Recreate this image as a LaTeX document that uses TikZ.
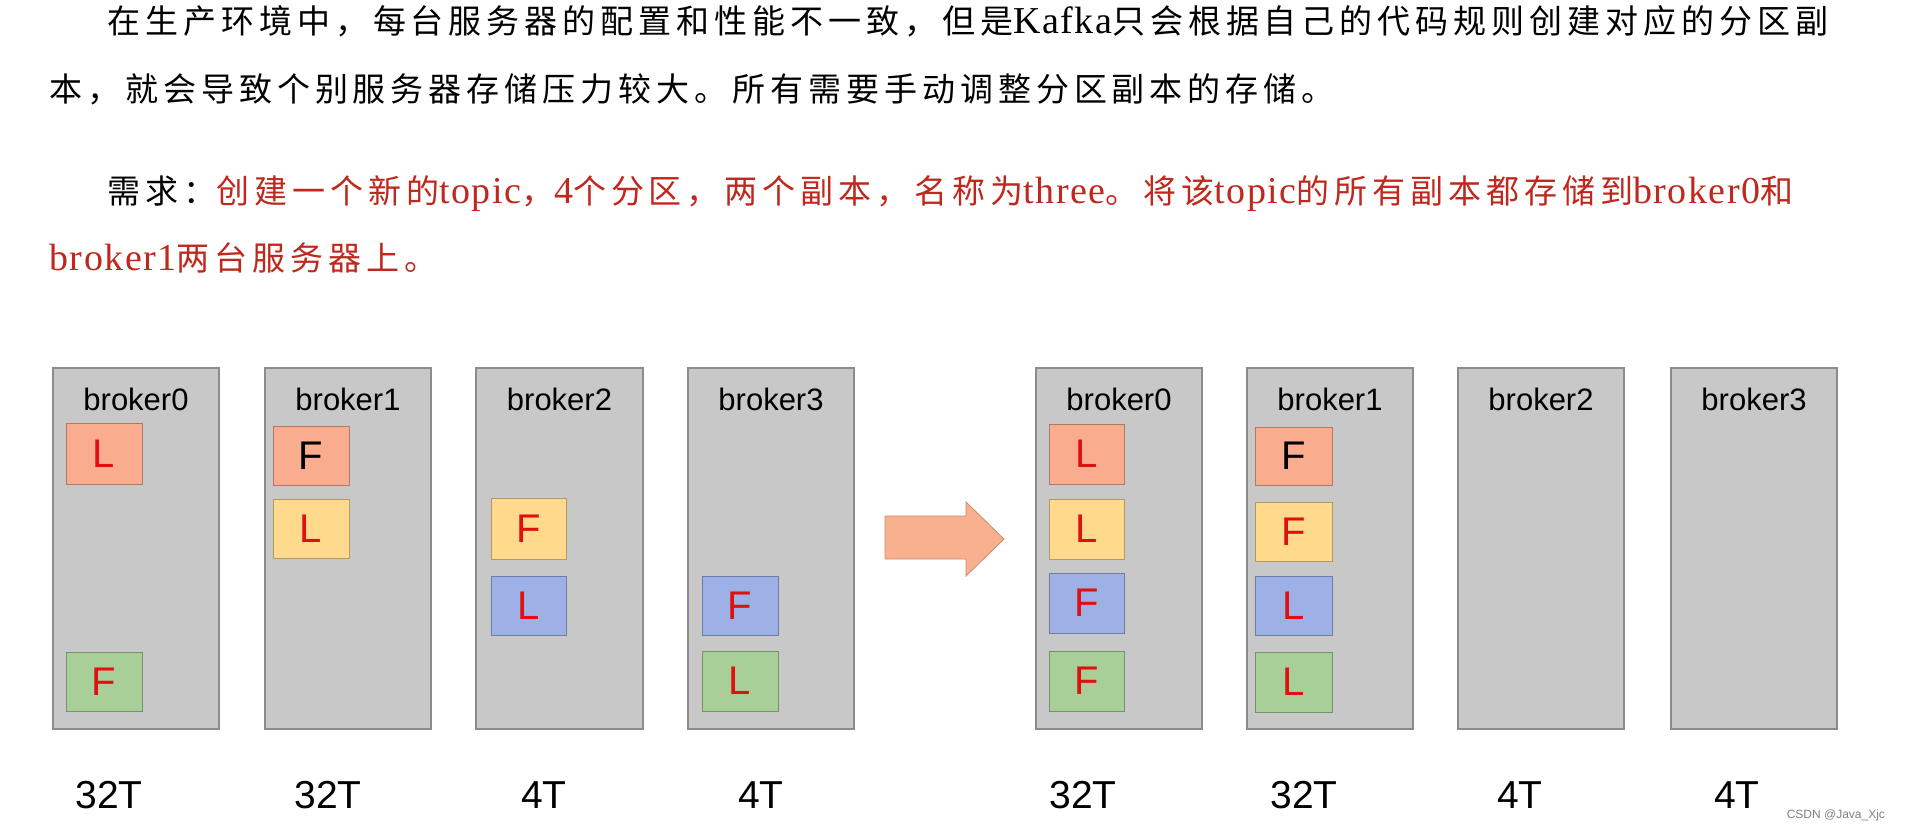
\documentclass[tikz,border=0pt]{standalone}
\usepackage{fontspec}
\setmainfont{Liberation Sans}
\newfontfamily\cjk[LetterSpace=15]{Noto Sans CJK SC}
\newfontfamily\lat[LetterSpace=4]{Liberation Serif}
\newcommand{\la}[1]{{\lat\fontsize{19}{19}\selectfont #1}}
\definecolor{colgray}{HTML}{C8C8C8}
\definecolor{colborder}{HTML}{8C8C8C}
\definecolor{corange}{HTML}{F9AC8E}
\definecolor{cyellow}{HTML}{FFD98C}
\definecolor{cblue}{HTML}{9DB1E6}
\definecolor{cgreen}{HTML}{A9CF99}
\definecolor{cred}{HTML}{E01010}
\definecolor{txtred}{HTML}{C0281E}
\definecolor{arrfill}{HTML}{F9B08F}
\tikzset{
  broker/.style={draw=colborder,fill=colgray,line width=0.6pt},
  part/.style={draw=#1!70!black,fill=#1,line width=0.4pt},
  lbl/.style={font=\fontsize{15.5}{15.5}\selectfont},
  letter/.style={font=\fontsize{20}{20}\selectfont},
  captext/.style={font=\fontsize{19.5}{19.5}\selectfont},
  para/.style={anchor=base west,inner sep=0pt,font=\cjk\fontsize{16.5}{16.5}\selectfont}
}
\begin{document}
\begin{tikzpicture}[x=0.5pt,y=-0.5pt]
\useasboundingbox[fill=white] (0,0) rectangle (1905,831);
\node[para] (t1) at (107,33) {在生产环境中，每台服务器的配置和性能不一致，但是\la{Kafka}只会根据自己的代码规则创建对应的分区副};
\node[para] (t2) at (49,101) {本，就会导致个别服务器存储压力较大。所有需要手动调整分区副本的存储。};
\node[para] (t3) at (107,203) {需求：\textcolor{txtred}{创建一个新的\la{topic}，\la{4}个分区，两个副本，名称为\la{three}。将该\la{topic}的所有副本都存储到\la{broker0}和}};
\node[para,text=txtred] (t4) at (49,270) {\la{broker1}两台服务器上。};
% brokers
\foreach \nn/\xa/\xb/\tt in {L0/53/219/broker0,L1/265/431/broker1,L2/476/643/broker2,L3/688/854/broker3,R0/1036/1202/broker0,R1/1247/1413/broker1,R2/1458/1624/broker2,R3/1671/1837/broker3}{
  \draw[broker] (\xa,368) rectangle (\xb,729);
  \node[lbl] (lab\nn) at ({(\xa+\xb)/2},399) {\tt};
}
% partitions
\foreach \xa/\ya/\xb/\yb/\col/\lt/\lc in {66/423/142/484/corange/L/cred,66/652/142/711/cgreen/F/cred,273/426/349/485/corange/F/black,273/499/349/558/cyellow/L/cred,491/498/566/559/cyellow/F/cred,491/576/566/635/cblue/L/cred,702/576/778/635/cblue/F/cred,702/651/778/711/cgreen/L/cred,1049/424/1124/484/corange/L/cred,1049/499/1124/559/cyellow/L/cred,1049/573/1124/633/cblue/F/cred,1049/651/1124/711/cgreen/F/cred,1255/427/1332/485/corange/F/black,1255/502/1332/561/cyellow/F/cred,1255/576/1332/635/cblue/L/cred,1255/652/1332/712/cgreen/L/cred}{
  \draw[part=\col] (\xa,\ya) rectangle (\xb,\yb);
  \node[letter,text=\lc] at ({(\xa+\xb)/2},{(\ya+\yb)/2}) {\lt};
}
% arrow
\draw[draw=arrfill!80!black,fill=arrfill,line width=0.4pt] (885,516) -- (966,516) -- (966,502) -- (1004,539) -- (966,576) -- (966,559) -- (885,559) -- cycle;
% capacities
\foreach \xx/\tt in {109/32T,328/32T,544/4T,761/4T,1083/32T,1304/32T,1520/4T,1737/4T}{
  \node[captext] at (\xx,795) {\tt};
}
\node[font=\fontsize{6}{6}\selectfont,text=gray,anchor=east] (wm) at (1892,815) {CSDN @Java\_Xjc};
\end{tikzpicture}
\end{document}
